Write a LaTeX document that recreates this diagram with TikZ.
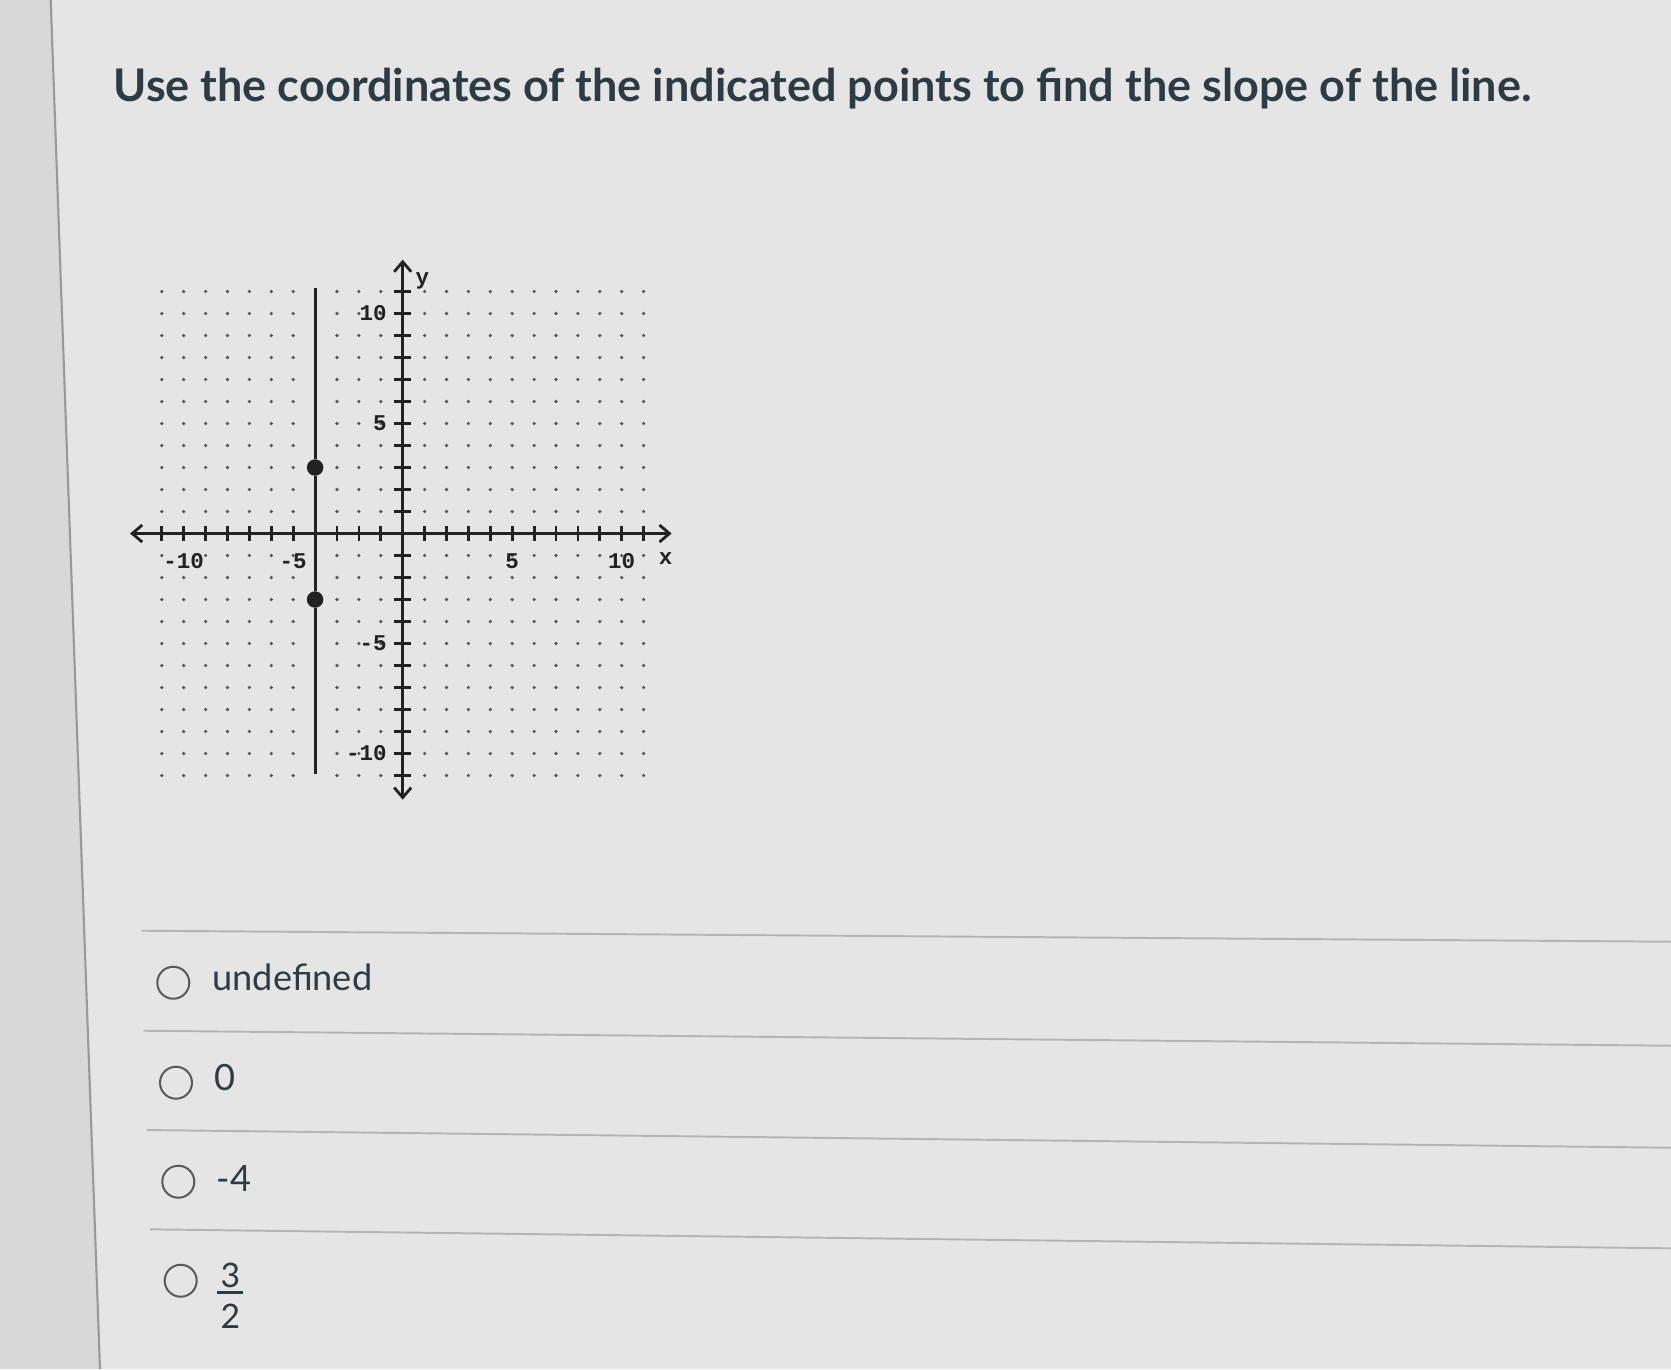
\documentclass[tikz,border=0pt]{standalone}
\usepackage{fontspec}
\setmainfont{Lato}
\newfontfamily\axisfont{Liberation Mono}
\usetikzlibrary{arrows.meta, positioning}
\definecolor{ink}{HTML}{2D3B45}
\definecolor{axisink}{HTML}{222222}
\definecolor{dotgray}{HTML}{555555}
\definecolor{radiogray}{HTML}{5A5A5A}
\definecolor{rulegray}{HTML}{B4B4B4}
\definecolor{pagebg}{HTML}{E5E5E5}
\definecolor{stripbg}{HTML}{D8D8D8}

\begin{document}
\begin{tikzpicture}[x=0.1mm, y=-0.1mm, >={Straight Barb[length=1mm, width=1.7mm]},
  txt/.style={text=ink, inner sep=0pt, anchor=base west},
  radio/.style={circle, draw=radiogray, line width=0.57pt, minimum size=3.2mm, inner sep=0pt},
  divider/.style={draw=rulegray, line width=0.55pt},
  axisline/.style={draw=axisink, line width=0.8pt},
  ticklbl/.style={font=\axisfont\bfseries\fontsize{6.4}{7}\selectfont, text=axisink, inner sep=0pt},
  ptmark/.style={circle, fill=axisink, inner sep=0pt, minimum size=1.65mm}]
\useasboundingbox (0,0) rectangle (1671,1369);
\fill[pagebg] (0,0) rectangle (1671,1369);
\fill[stripbg] (0,0) -- (50.7,0) -- (100,1369) -- (0,1369) -- cycle;
\draw[draw=gray!80, line width=0.6pt] (50.7,0) -- (100,1369);

% question
\node[txt, font=\bfseries\fontsize{12.8}{15}\selectfont] (title) at (113,101.7)
  {Use the coordinates of the indicated points to find the slope of the line.};

% graph
\begin{scope}[shift={(402.7,533.5)}, x=2.19mm, y=2.2mm]
  \foreach \i in {-11,...,-5,-3,-2,-1,1,2,...,11}
    \foreach \j in {-11,...,-1,1,2,...,11}
      \fill[dotgray] (\i,\j) circle (0.18mm);
  \coordinate (xl) at (-12.45,0);
  \coordinate (xr) at (12.28,0);
  \coordinate (yt) at (0,12.45);
  \coordinate (yb) at (0,-12.1);
  \draw[axisline, <->] (xl) -- (xr);
  \draw[axisline, <->] (yb) -- (yt);
  \foreach \k in {-11,...,-1,1,2,...,11} {
    \draw[axisline] (\k,-0.36) -- (\k,0.36);
    \draw[axisline] (-0.38,\k) -- (0.38,\k);
  }
  \node[ticklbl] (xm10) at (-10,-1.27) {-10};
  \node[ticklbl] (xm5) at (-5,-1.27) {-5};
  \node[ticklbl] (xp5) at (5,-1.27) {5};
  \node[ticklbl] (xp10) at (10,-1.27) {10};
  \node[ticklbl] (xlbl) at (12.0,-1.15) {x};
  \node[ticklbl, anchor=east] (yp10) at (-0.7,10) {10};
  \node[ticklbl, anchor=east] (yp5) at (-0.7,5) {5};
  \node[ticklbl, anchor=east] (ym5) at (-0.7,-5) {-5};
  \node[ticklbl, anchor=east] (ym10) at (-0.7,-10) {-10};
  \node[ticklbl] (ylbl) at (0.9,11.5) {y};
  % the line through the two points
  \coordinate (ltop) at (-4,11.15);
  \coordinate (lbot) at (-4,-10.95);
  \node[ptmark] (pa) at (-4,3) {};
  \node[ptmark] (pb) at (-4,-3) {};
  \draw[axisline] (ltop) -- (pa) -- (pb) -- (lbot);
\end{scope}

% answer choices
\draw[divider] (141.7,930.7) -- (1671,941.7);
\draw[divider] (143.3,1030.7) -- (1671,1045.7);
\draw[divider] (146.7,1130) -- (1671,1147.7);
\draw[divider] (150,1229.3) -- (1671,1248.3);

\node[radio] (r1) at (173.3,982.7) {};
\node[radio] (r2) at (176,1082.7) {};
\node[radio] (r3) at (178.3,1181.7) {};
\node[radio] (r4) at (180.7,1280.7) {};

\node[txt, font=\fontsize{10.3}{12}\selectfont] (c1) at (211.7,990.7) {undefined};
\node[txt, font=\fontsize{10.3}{12}\selectfont] (c2) at (213.3,1090.7) {0};
\node[txt, font=\fontsize{10.3}{12}\selectfont] (c3) at (216,1191.7) {-4};
\node[txt, anchor=center, font=\fontsize{9.6}{11}\selectfont] (num) at (230.3,1275) {3};
\node[txt, anchor=center, font=\fontsize{9.6}{11}\selectfont] (den) at (230.3,1316) {2};
\draw[draw=ink, line width=0.75pt] (217.3,1292.3) -- (243.3,1292.3);
\end{tikzpicture}
\end{document}
